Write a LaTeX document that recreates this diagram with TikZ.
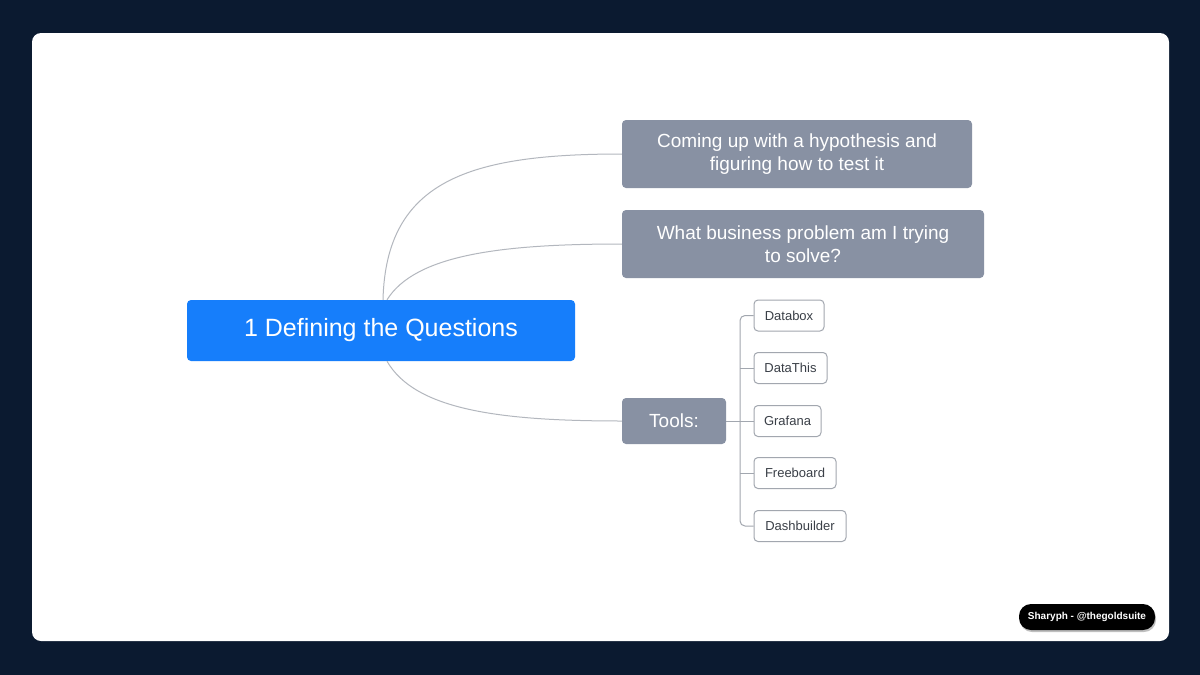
\documentclass[tikz,border=0pt]{standalone}
\usepackage{fontspec}
\setmainfont{Liberation Sans}
\usetikzlibrary{shadows}
\definecolor{navy}{HTML}{0B1A30}
\definecolor{mainblue}{HTML}{167EFB}
\definecolor{slate}{HTML}{8891A3}
\definecolor{curvegray}{HTML}{B3B7BE}
\definecolor{treegray}{HTML}{A2A7AF}
\definecolor{leaftext}{HTML}{3A3F47}
\tikzset{
  mainbox/.style={fill=mainblue, draw=none, rounded corners=4pt, text=white, align=center,
    font=\fontsize{25}{30}\selectfont},
  subbox/.style={fill=slate, draw=none, rounded corners=4pt, text=white, align=center,
    font=\fontsize{19}{23}\selectfont},
  leafbox/.style={fill=white, draw=treegray, line width=1, rounded corners=4pt, text=leaftext,
    minimum height=31, inner xsep=0, font=\fontsize{13}{15}\selectfont},
  curve/.style={draw=curvegray, line width=1},
  tree/.style={draw=treegray, line width=1, rounded corners=5pt},
  wmark/.style={fill=black, rounded corners=12pt, text=white, font=\bfseries\fontsize{10}{12}\selectfont,
    drop shadow={shadow xshift=1pt, shadow yshift=-2pt, fill=black!50, opacity=0.5}}
}
\begin{document}
\begin{tikzpicture}[x=1pt,y=-1pt]
\useasboundingbox (0,0) rectangle (1200,675);
\fill[navy] (0,0) rectangle (1200,675);
\fill[white, rounded corners=9pt] (32,33) rectangle (1169,641);

\node[mainbox, minimum width=388, minimum height=61] (m) at (381,330.5) {1 Defining the Questions};
\node[subbox, minimum width=350, minimum height=68] (a) at (797,154) {Coming up with a hypothesis and\\figuring how to test it};
\node[subbox, minimum width=362, minimum height=68] (b) at (803,244) {What business problem am I trying\\to solve?};
\node[subbox, minimum width=104, minimum height=46] (t) at (674,421) {Tools:};

\node[leafbox, minimum width=70] (l1) at (789,315.5) {Databox};
\node[leafbox, minimum width=73] (l2) at (790.5,368) {DataThis};
\node[leafbox, minimum width=67] (l3) at (787.5,421) {Grafana};
\node[leafbox, minimum width=82] (l4) at (795,473) {Freeboard};
\node[leafbox, minimum width=92] (l5) at (800,526) {Dashbuilder};

\draw[curve] ([xshift=2]m.north) .. controls (386,180) and (470,154) .. (a.west);
\draw[curve] ([xshift=6]m.north) .. controls (415,255) and (500,244) .. (b.west);
\draw[curve] ([xshift=6]m.south) .. controls (415,410) and (500,421) .. (t.west);

\coordinate (bus) at (740,421);
\draw[tree] (t.east) -- (bus);
\draw[tree] (l1.west) -| (bus) |- (l5.west);
\foreach \l in {l2,l3,l4}{
  \draw[tree] (bus |- \l.west) -- (\l.west);
}

\node[wmark, minimum width=136, minimum height=26] (w) at (1087,617) {Sharyph - @thegoldsuite};
\end{tikzpicture}
\end{document}
